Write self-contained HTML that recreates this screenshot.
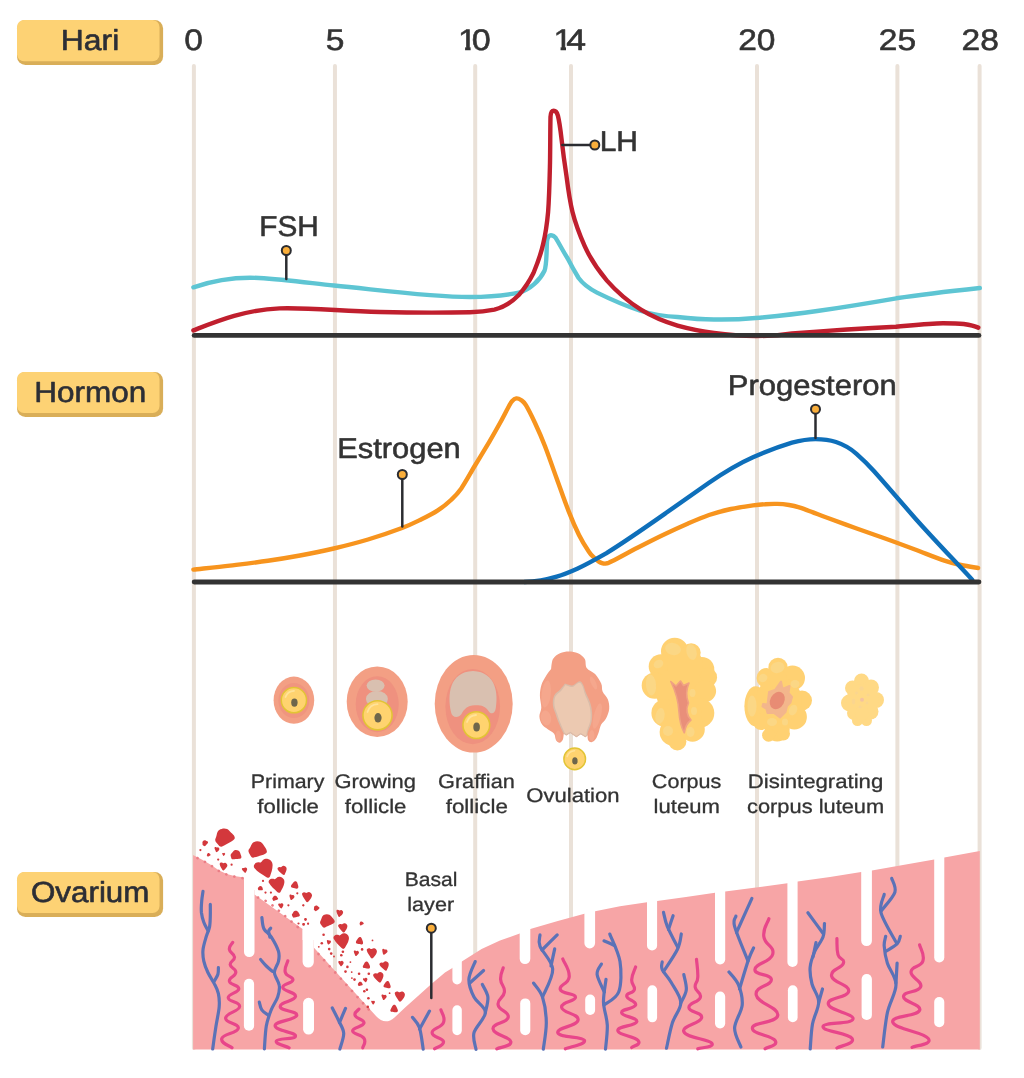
<!DOCTYPE html>
<html lang="id">
<head>
<meta charset="utf-8">
<title>Siklus Menstruasi</title>
<style>
html,body{margin:0;padding:0;background:#fff;}
body{width:1024px;height:1078px;overflow:hidden;font-family:"Liberation Sans",sans-serif;}
svg{display:block;}
text{font-family:"Liberation Sans",sans-serif;text-rendering:geometricPrecision;fill:#333;stroke:#333;stroke-width:0.55px;stroke-linejoin:round;}
.lb text{fill:#2c2e35;stroke:#2c2e35;stroke-width:0.6px;}
.sm text{stroke-width:0.3px;}
.gl{stroke:#eae1d8;stroke-width:4;stroke-linecap:round;fill:none;}
.bl{stroke:#333;stroke-width:4.9;stroke-linecap:round;fill:none;}
.cv{fill:none;stroke-width:4.4;stroke-linecap:round;stroke-linejoin:round;}
.ld{stroke:#2b2c31;stroke-width:2.5;fill:none;stroke-linecap:round;}
.dot{fill:#f9ae3b;stroke:#2b2c31;stroke-width:2;}
.bv{fill:none;stroke:#5b72b7;stroke-width:3.2;stroke-linecap:round;stroke-linejoin:round;}
.mv{fill:none;stroke:#e8468a;stroke-width:3.2;stroke-linecap:round;stroke-linejoin:round;}
</style>
</head>
<body>
<svg width="1024" height="1078" viewBox="0 0 1024 1078">
<rect width="1024" height="1078" fill="#fff"/>

<!-- GRIDLINES -->
<g class="gl">
<line x1="193.9" y1="66" x2="193.9" y2="1048"/>
<line x1="334.95" y1="66" x2="334.95" y2="1000"/>
<line x1="475.2" y1="66" x2="475.2" y2="1000"/>
<line x1="571" y1="66" x2="571" y2="1000"/>
<line x1="757" y1="66" x2="757" y2="1000"/>
<line x1="897.4" y1="66" x2="897.4" y2="1000"/>
<line x1="979.6" y1="66" x2="979.6" y2="1048"/>
</g>

<!-- LABEL BOXES -->
<g id="labels" class="lb">
<rect x="17" y="20" width="146.1" height="45.1" rx="8.5" fill="#d9ae58"/>
<rect x="17" y="20" width="142.5" height="41.2" rx="7" fill="#fdd274"/>
<text x="90" y="50" font-size="29" text-anchor="middle" textLength="58.5" lengthAdjust="spacingAndGlyphs">Hari</text>
<rect x="17" y="372" width="146.1" height="44.9" rx="8.5" fill="#d9ae58"/>
<rect x="17" y="372" width="142.5" height="41" rx="7" fill="#fdd274"/>
<text x="90.2" y="402" font-size="29" text-anchor="middle" textLength="112" lengthAdjust="spacingAndGlyphs">Hormon</text>
<rect x="17" y="872" width="146.1" height="44.9" rx="8.5" fill="#d9ae58"/>
<rect x="17" y="872" width="142.5" height="41" rx="7" fill="#fdd274"/>
<text x="90.2" y="902" font-size="29" text-anchor="middle" textLength="118.5" lengthAdjust="spacingAndGlyphs">Ovarium</text>
</g>

<!-- DAY NUMBERS -->
<g id="days" font-size="29.7">
<text transform="translate(184.2 50) scale(1.13 1)">0</text>
<text transform="translate(325.8 50) scale(1.13 1)">5</text>
<clipPath id="c1"><path d="M455,25 H470.6 V52 H465.1 V46 H455 Z"/></clipPath><g clip-path="url(#c1)"><text transform="translate(458 50) scale(1.13 1)">1</text></g><text transform="translate(471.7 50) scale(1.15 1)">0</text>
<clipPath id="c2"><path d="M550,25 H566 V52 H560.6 V46 H550 Z"/></clipPath><g clip-path="url(#c2)"><text transform="translate(553.5 50) scale(1.13 1)">1</text></g><text transform="translate(566.3 50) scale(1.2 1)">4</text>
<text transform="translate(738.2 50) scale(1.13 1)">20</text>
<text transform="translate(878.8 50) scale(1.13 1)">25</text>
<text transform="translate(961.6 50) scale(1.13 1)">28</text>
</g>

<!-- CHART 1 -->
<g id="chart1">
<path class="cv" stroke="#5ec5d3" d="M193.4,287.3 C215,280 240,277 259,278 C285,279.5 310,283 334,285.5 C380,290 430,297 470,297 C490,297 505,295.5 518.8,292.6 C530,290 540,280 544.5,270.7 C547,264 546.4,250 547,241.4 C547.5,236 550,235 551.3,235.3 C553,235.5 554.5,236.5 555.5,237.7 C560,245 563,251 567.7,258.5 C571,265 575,272 578.6,278 C583,284 589,288.5 597,292.6 C612,300 626,306 640.9,311 C655,315 668,316.5 677.5,317 C690,318.5 702,319.5 714,319.5 C730,319.8 745,319 755.7,318 C778,316 800,313.5 817.2,311 C845,307 872,302.5 896.3,298.3 C925,294 952,291 979.8,288"/>
<path class="cv" stroke="#c01f2e" d="M193.4,330.4 C215,322 245,309.5 279.6,308.4 C310,307.5 340,311 380,312 C415,312.8 445,312.8 470,312.2 C480,312 488,311 494.4,309.7 C503,307.5 511,303 518.8,295 C525,288 529,282 533.5,273 C538,262 541,254 543.2,243.8 C546,232 547.2,222 548.1,212 C549.3,196 549.6,180 550,163 C550.3,148 550.2,130 550.5,116.9 C550.8,112 552,110.8 553.7,110.8 C555.5,110.8 557,112.5 557.9,115.6 C559.5,122 560.5,130 561.5,138.8 C563,152 564.5,163 566.4,175.4 C568,188 569.5,200 572.5,212 C575.5,224 580,235.5 584.7,246.2 C590,258 598,270 606.7,280.4 C616,291 628,301.5 640.9,309.7 C652,316.5 665,322 677.5,325.6 C690,329 702,331.5 714,333 C725,334.5 740,336 756,336 C772,336 782,335 792,333.5 C825,331 862,328.5 896,326.8 C915,325 930,323.2 943,323.2 C952,323.2 958,323.3 963.7,324 C970,325 975,326.2 978.3,327.6"/>
<line class="bl" x1="194.2" y1="335.4" x2="978.9" y2="335.4"/>
<line class="ld" x1="286.3" y1="255" x2="286.3" y2="279"/>
<circle class="dot" cx="286.3" cy="250.5" r="4.5"/>
<text x="289" y="236.4" font-size="28.6" text-anchor="middle" textLength="59.5" lengthAdjust="spacingAndGlyphs">FSH</text>
<line class="ld" x1="562.3" y1="145" x2="590" y2="145" stroke-linecap="round"/>
<circle class="dot" cx="594.8" cy="145" r="4.5"/>
<text x="599.7" y="151.4" font-size="28.6" textLength="38.3" lengthAdjust="spacingAndGlyphs">LH</text>
</g>

<!-- CHART 2 -->
<g id="chart2">
<path class="cv" stroke="#f7941e" d="M193.4,569.6 C199.5,568.9 217.6,567.1 230.0,565.6 C242.4,564.1 256.2,562.5 267.9,560.8 C279.6,559.1 289.0,557.5 300.0,555.5 C311.0,553.5 322.5,551.2 333.8,548.5 C345.1,545.8 356.6,542.9 368.0,539.5 C379.4,536.1 393.0,531.4 402.0,528.0 C411.0,524.6 416.0,521.9 422.0,519.0 C428.0,516.1 433.0,513.6 437.8,510.4 C442.6,507.2 447.1,503.7 451.0,500.0 C454.9,496.3 457.3,494.1 461.3,488.4 C465.3,482.6 470.3,473.3 475.0,465.5 C479.7,457.7 485.1,448.9 489.3,441.8 C493.5,434.7 496.8,428.8 500.0,423.0 C503.2,417.2 506.5,410.6 508.5,407.0 C510.5,403.4 510.7,402.6 512.0,401.2 C513.3,399.8 514.8,398.6 516.3,398.4 C517.8,398.2 519.4,398.9 521.0,400.0 C522.6,401.1 523.6,401.4 525.9,405.2 C528.2,409.0 531.8,416.2 535.0,423.0 C538.2,429.8 541.4,437.0 545.0,446.2 C548.6,455.4 552.6,467.3 556.5,478.0 C560.4,488.7 564.6,501.1 568.4,510.6 C572.1,520.1 575.6,528.1 579.0,535.0 C582.4,541.9 586.4,548.0 588.9,551.7 C591.4,555.5 592.3,555.8 594.0,557.5 C595.7,559.2 597.7,560.9 599.2,561.9 C600.7,562.9 601.8,563.1 603.0,563.4 C604.2,563.6 604.9,563.8 606.5,563.4 C608.1,563.0 607.1,563.6 612.4,561.0 C617.6,558.4 629.2,552.0 638.0,547.5 C646.8,543.0 656.9,537.9 665.1,534.0 C673.3,530.1 679.7,527.2 687.0,524.0 C694.3,520.8 701.7,517.5 709.0,515.0 C716.3,512.5 723.7,510.6 731.0,509.0 C738.3,507.4 747.3,506.2 753.0,505.4 C758.7,504.6 760.9,504.4 765.0,504.2 C769.1,503.9 773.4,503.8 777.4,503.9 C781.4,504.0 785.2,504.4 789.0,505.0 C792.8,505.6 796.0,506.4 800.0,507.6 C804.0,508.8 808.5,510.7 813.0,512.4 C817.5,514.1 820.0,515.2 827.2,517.8 C834.4,520.4 846.2,524.7 856.0,528.2 C865.8,531.7 876.0,535.2 885.8,538.7 C895.6,542.2 905.2,545.8 915.0,549.5 C924.8,553.2 936.7,558.1 944.4,560.7 C952.1,563.3 955.4,563.8 961.0,565.0 C966.6,566.2 975.2,567.5 978.1,568.0"/>
<path class="cv" stroke="#0e6fba" d="M524.5,582 C536,581.5 547,579.5 556.7,576.6 C564,574.5 571,571.5 577.2,568.7 C587,564.2 597,558.5 606.5,553.1 C626,541 646,527 665.1,513.6 C680,503 695,492.5 709,482.8 C724,472.5 739,463.5 753,457.3 C766,451.5 779,446.5 792,442.6 C800,440.5 808,439.1 815.5,439.1 C823,439.1 830,440 836,442 C843.5,444.5 850.5,448.5 856.5,453.8 C863,459.5 869,465.5 874.1,471.3 C888,487 902,503 915.1,518.2 C934,539.5 953,559 972.2,579.7"/>
<line class="bl" x1="194.2" y1="582" x2="978.9" y2="582"/>
<line class="ld" x1="402.3" y1="479" x2="402.3" y2="526.5"/>
<circle class="dot" cx="402.3" cy="474.5" r="4.5"/>
<text x="399" y="457.6" font-size="28.6" text-anchor="middle" textLength="123.5" lengthAdjust="spacingAndGlyphs">Estrogen</text>
<line class="ld" x1="815.5" y1="413.5" x2="815.5" y2="438"/>
<circle class="dot" cx="815.5" cy="409.2" r="4.5"/>
<text x="812.3" y="394.6" font-size="28.6" text-anchor="middle" textLength="169" lengthAdjust="spacingAndGlyphs">Progesteron</text>
</g>

<!-- FOLLICLES -->
<g id="follicles">
<!-- primary -->
<ellipse cx="293.9" cy="700.2" rx="20.3" ry="23.6" fill="#f39f84"/>
<ellipse cx="293.9" cy="700.6" rx="15.5" ry="17.5" fill="#f0957f"/>
<circle cx="293.9" cy="700.2" r="12.6" fill="#ffd36f" stroke="#e2c435" stroke-width="1.5"/>
<path d="M285.5,697 A9.5,9.5 0 0 1 294,690.8" fill="none" stroke="#ffe39a" stroke-width="1.8" stroke-linecap="round"/>
<ellipse cx="294.4" cy="702.6" rx="3.2" ry="4.2" fill="#6e664b"/>
<!-- growing -->
<ellipse cx="377.2" cy="701.7" rx="30.5" ry="35.3" fill="#f39f84"/>
<ellipse cx="377.2" cy="704.2" rx="21.5" ry="28" fill="#ef917f"/>
<ellipse cx="375.6" cy="685.6" rx="9" ry="6.2" fill="#d9c0b0"/>
<ellipse cx="376.9" cy="699" rx="11" ry="8" fill="#d9c0b0"/>
<circle cx="377.5" cy="715.3" r="14.6" fill="#ffd36f" stroke="#e2c435" stroke-width="1.6"/>
<path d="M367.5,712 A11,11 0 0 1 377.5,704.2" fill="none" stroke="#ffe39a" stroke-width="1.8" stroke-linecap="round"/>
<ellipse cx="378" cy="717.8" rx="3.6" ry="4.8" fill="#6e664b"/>
<!-- graafian -->
<ellipse cx="473.7" cy="703.8" rx="39" ry="48.8" fill="#f39f84"/>
<ellipse cx="472.7" cy="706.6" rx="27.3" ry="37.6" fill="#ef917f"/>
<path d="M451,712 C447.5,695 449,672 473,671 C497,672 498,695 495.8,708 C495,714.5 490.5,714.5 488.5,711 C485.5,706 481,705 475,705.2 C468,705 464,709 461.5,714 C458.5,718.5 452,718 451,712 Z" fill="#d9c0b0"/>
<circle cx="476.3" cy="725.1" r="13.4" fill="#ffd36f" stroke="#e2c435" stroke-width="1.6"/>
<path d="M467,722 A10,10 0 0 1 476,715" fill="none" stroke="#ffe39a" stroke-width="1.8" stroke-linecap="round"/>
<ellipse cx="476.6" cy="727.1" rx="3.3" ry="4.5" fill="#6e664b"/>
<!-- ovulation -->
<path d="M551.1,669.1 C551.4,667.4 551.5,661.6 553.0,659.0 C554.5,656.4 557.4,654.5 560.0,653.3 C562.6,652.1 565.8,651.6 568.8,651.6 C571.8,651.6 575.3,652.1 578.0,653.3 C580.7,654.5 583.3,656.6 584.8,659.0 C586.2,661.4 585.0,665.4 586.7,667.9 C588.4,670.4 592.7,671.4 595.1,674.0 C597.5,676.6 600.0,680.7 601.2,683.6 C602.5,686.5 601.5,688.9 602.6,691.5 C603.7,694.1 606.7,696.4 607.8,699.3 C608.9,702.2 609.5,705.7 609.2,708.9 C608.9,712.1 607.3,716.0 606.0,718.6 C604.7,721.2 602.4,722.4 601.2,724.6 C600.0,726.8 599.7,729.5 598.8,731.9 C597.9,734.3 596.9,737.4 595.7,739.1 C594.5,740.8 592.8,742.1 591.5,742.3 C590.2,742.5 588.9,741.5 588.2,740.3 C587.5,739.1 587.6,736.1 587.5,735.2 L585.5,737.3 L580.7,734.3 L576.4,737.3 L570.4,733.1 L566.2,735.5 L563.8,733.7 C563.6,734.7 563.5,738.2 562.8,739.7 C562.1,741.2 560.7,742.6 559.6,742.7 C558.5,742.8 557.0,741.8 556.1,740.3 C555.2,738.8 555.4,735.5 554.1,733.7 C552.8,731.9 550.1,730.9 548.1,729.4 C546.1,727.9 543.6,726.8 542.1,724.6 C540.6,722.4 539.5,719.0 539.4,716.2 C539.3,713.4 541.2,711.1 541.3,707.7 C541.4,704.3 539.9,699.5 539.9,695.7 C539.9,691.9 540.5,688.0 541.5,684.8 C542.5,681.6 544.1,679.0 545.7,676.4 C547.3,673.8 550.2,670.3 551.1,669.1 Z" fill="#f39f84"/>
<g fill="#f5a78d"><ellipse cx="546.2" cy="694" rx="4.6" ry="13.5" transform="rotate(6 546.2 694)"/><ellipse cx="546" cy="718" rx="5.2" ry="7.5" transform="rotate(-10 546 718)"/><ellipse cx="597.3" cy="716" rx="3.6" ry="13" transform="rotate(14 597.3 716)"/><ellipse cx="593.5" cy="683" rx="2.4" ry="7" transform="rotate(-25 593.5 683)"/><ellipse cx="558.3" cy="736" rx="2.6" ry="5.5"/><ellipse cx="591.8" cy="735.5" rx="2.6" ry="5.5"/></g>
<path d="M565.0,683.6 C566.2,683.9 569.8,685.8 572.2,685.4 C574.6,685.0 577.7,681.3 579.5,681.2 C581.3,681.1 582.0,682.8 583.1,684.8 C584.2,686.8 584.9,690.3 586.1,693.3 C587.3,696.3 589.3,699.7 590.3,702.9 C591.3,706.1 591.9,709.4 592.1,712.6 C592.3,715.8 592.2,719.0 591.5,722.2 C590.8,725.4 588.6,729.7 587.9,731.9 C587.2,734.1 587.6,734.7 587.5,735.2 L585.5,737.3 L580.7,734.3 L576.4,737.3 L570.4,733.1 L566.2,735.5 L563.8,733.7 C563.0,732.0 560.3,726.5 559.0,723.4 C557.7,720.3 556.9,718.0 555.9,715.0 C554.9,712.0 553.2,708.5 552.9,705.3 C552.6,702.1 552.9,698.3 554.1,695.7 C555.3,693.1 558.4,691.6 560.2,689.6 C562.0,687.6 564.2,684.6 565.0,683.6 Z" fill="#d9bca9"/>
<path d="M565.5,685.1 C566.6,685.4 570.0,687.4 572.3,687.0 C574.5,686.6 577.4,682.9 579.1,682.8 C580.8,682.6 581.5,684.3 582.5,686.3 C583.4,688.2 584.0,691.6 585.0,694.5 C586.1,697.3 587.8,700.4 588.8,703.4 C589.7,706.3 590.3,709.2 590.5,712.2 C590.8,715.2 590.8,718.2 590.2,721.2 C589.6,724.3 587.7,728.3 587.1,730.5 C586.4,732.8 586.7,733.9 586.6,734.6 L585.5,735.9 L580.7,732.9 L576.4,735.9 L570.4,731.7 L566.2,734.1 L564.6,732.8 C563.8,731.0 561.3,725.3 560.1,722.2 C558.9,719.1 558.3,717.2 557.4,714.4 C556.4,711.6 554.8,708.5 554.5,705.5 C554.2,702.5 554.3,699.0 555.4,696.6 C556.5,694.1 559.4,692.8 561.1,690.9 C562.8,689.0 564.8,686.1 565.5,685.1 Z" fill="#ecc9b1"/>
<circle cx="574.7" cy="758.9" r="10.8" fill="#ffd36f" stroke="#e2c435" stroke-width="1.5"/>
<path d="M567.2,756.5 A8,8 0 0 1 574.5,750.8" fill="none" stroke="#ffe39a" stroke-width="1.6" stroke-linecap="round"/>
<ellipse cx="574.9" cy="760.9" rx="2.7" ry="3.7" fill="#6e664b"/>
<!-- corpus luteum -->
<g fill="#ffd172">
<circle cx="674.7" cy="651.4" r="13.7"/><circle cx="691.1" cy="652.8" r="9.6"/><circle cx="702" cy="669.2" r="12.3"/>
<circle cx="707.5" cy="677.4" r="9.6"/><circle cx="661" cy="666.5" r="12.3"/><circle cx="654.9" cy="685.6" r="13.2"/>
<circle cx="680.2" cy="691.1" r="24.6"/><circle cx="705.2" cy="691.1" r="10.9"/><circle cx="665.1" cy="713" r="13.7"/>
<circle cx="699.3" cy="713" r="15"/><circle cx="673.3" cy="732.1" r="13.7"/><circle cx="677.4" cy="741.5" r="9"/>
<circle cx="692.5" cy="729.4" r="12.3"/><circle cx="685" cy="665" r="18"/><circle cx="684" cy="715" r="18"/>
</g>
<g fill="#fbd888" opacity="0.9">
<ellipse cx="673" cy="649" rx="8" ry="6" transform="rotate(15 673 649)"/>
<ellipse cx="691.5" cy="652" rx="5" ry="8" transform="rotate(-15 691.5 652)"/>
<ellipse cx="651" cy="685" rx="5" ry="10.5" transform="rotate(-5 651 685)"/>
<ellipse cx="658.5" cy="664" rx="5" ry="4" transform="rotate(-30 658.5 664)"/>
<ellipse cx="660" cy="716" rx="4.5" ry="8" transform="rotate(10 660 716)"/>
<ellipse cx="668" cy="731" rx="5" ry="5"/>
<ellipse cx="690.5" cy="732" rx="4" ry="5"/>
<ellipse cx="692.5" cy="693" rx="3" ry="4"/>
<ellipse cx="694" cy="711" rx="3" ry="4"/>
</g>
<path d="M670.8,681.5 L676,686 L680.5,681 L683.5,685.5 L689,683 C686,690 686,697 688.5,703 C685.5,709 687,716 691,720 C687,723 685,728 684.3,732.8 C681,727 679.5,720 679,712 C678.5,703 676,692 670.8,681.5 Z" fill="#e98f7a" stroke="#f0a283" stroke-width="1.6" stroke-linejoin="round"/>
<!-- disintegrating -->
<g fill="#ffd172">
<circle cx="778" cy="667.3" r="9.6"/><circle cx="766.5" cy="678" r="10"/><circle cx="792.5" cy="678" r="12.5"/>
<ellipse cx="755.6" cy="706.3" rx="11.2" ry="20"/><circle cx="802" cy="700.5" r="10"/><circle cx="794.4" cy="716.9" r="12.5"/>
<circle cx="777.2" cy="729" r="12.5"/><circle cx="768.6" cy="735.2" r="6.5"/><circle cx="783.4" cy="733.8" r="6.6"/>
<circle cx="778.8" cy="700" r="23"/><circle cx="778" cy="679" r="9"/><circle cx="761" cy="722" r="8"/>
</g>
<g fill="#fbd888" opacity="0.9">
<ellipse cx="777.5" cy="667.5" rx="7" ry="5.5" transform="rotate(-15 777.5 667.5)"/>
<ellipse cx="763" cy="678" rx="4.5" ry="4" transform="rotate(-30 763 678)"/>
<ellipse cx="795" cy="684" rx="4.5" ry="4"/>
<ellipse cx="752" cy="706" rx="4.5" ry="10.5"/>
<ellipse cx="793" cy="710" rx="4" ry="5.5" transform="rotate(25 793 710)"/>
<ellipse cx="772" cy="722" rx="5" ry="4"/>
<ellipse cx="785" cy="722" rx="3" ry="3.5"/>
</g>
<path d="M781,681.5 L782.5,689 L789.5,686 L788.5,693 L792,697 L790.5,702.5 L787,706 L785.5,712 L780,717.5 L774,713 L767.5,713 L766.5,709 L762.5,706.5 L763,704 L767.5,704.5 L769,692 L775,690 Z" fill="#f3b68c" stroke="#f3b68c" stroke-width="2" stroke-linejoin="round"/>
<ellipse cx="777.3" cy="700.5" rx="7" ry="9.2" transform="rotate(28 777.3 700.5)" fill="#e88c74"/>
<!-- small -->
<g fill="#ffd985">
<circle cx="861.5" cy="681" r="7.5"/><circle cx="852.5" cy="688" r="7.5"/><circle cx="871" cy="687.5" r="8"/>
<circle cx="849.5" cy="703" r="8.5"/><circle cx="876" cy="700" r="8"/><circle cx="854" cy="713" r="7"/>
<circle cx="870.5" cy="711.5" r="8"/><circle cx="857.5" cy="720.5" r="5.5"/><circle cx="866.5" cy="720.5" r="5.5"/>
<circle cx="862.5" cy="700" r="16"/><circle cx="862" cy="713.5" r="7"/>
</g>
<g fill="#f9d592" opacity="0.8">
<circle cx="861.5" cy="688.5" r="2.2"/><circle cx="856.5" cy="693" r="1.6"/><circle cx="868" cy="695" r="1.6"/>
<ellipse cx="853.5" cy="701.5" rx="1.6" ry="3"/><circle cx="860" cy="707" r="1.6"/><circle cx="867" cy="703" r="1.4"/>
</g>
<circle cx="862" cy="699.8" r="2" fill="#f3c2a0"/>
<!-- labels -->
<g class="sm" font-size="19.6" text-anchor="middle">
<text x="287.6" y="787.7" textLength="73.6" lengthAdjust="spacingAndGlyphs">Primary</text>
<text x="288.1" y="813.4" textLength="61.6" lengthAdjust="spacingAndGlyphs">follicle</text>
<text x="375.2" y="787.7" textLength="81.6" lengthAdjust="spacingAndGlyphs">Growing</text>
<text x="375.6" y="813.4" textLength="61.6" lengthAdjust="spacingAndGlyphs">follicle</text>
<text x="476.4" y="787.7" textLength="76.8" lengthAdjust="spacingAndGlyphs">Graffian</text>
<text x="476.8" y="813.4" textLength="62.2" lengthAdjust="spacingAndGlyphs">follicle</text>
<text x="572.9" y="802.1" textLength="93.3" lengthAdjust="spacingAndGlyphs">Ovulation</text>
<text x="686.6" y="787.7" textLength="69.5" lengthAdjust="spacingAndGlyphs">Corpus</text>
<text x="686.7" y="813.4" textLength="66.3" lengthAdjust="spacingAndGlyphs">luteum</text>
<text x="815.5" y="787.7" textLength="135.6" lengthAdjust="spacingAndGlyphs">Disintegrating</text>
<text x="815.6" y="813.4" textLength="137.2" lengthAdjust="spacingAndGlyphs">corpus luteum</text>
</g>
</g>

<!-- ENDOMETRIUM -->
<g id="endo">
<path d="M193.1,1049.5 L193.1,855 L202.7,860 L210.3,864.4 L219.2,870.6 L226.8,874 L234.4,876 L244,877.6 L244,890 L254.5,890 L254.5,894.5 L302.6,929 L302.6,940 L313.8,940 L314,947.8 L376,1016 Q385,1025.9 394.5,1017.4 L400.9,1011.6 L405.4,1007.3 L418.0,996.0 L430.8,984.4 L445.0,972.4 L452.4,967.9 L461.8,961.6 L481.6,948.9 L500.0,940.5 L519.7,933.6 L530.3,929.0 L557.8,920.9 L584.4,913.8 L595.1,911.3 L620.0,906.3 L647.0,902.2 L657.1,900.9 L686.0,897.0 L715.0,892.8 L725.2,891.5 L756.0,887.5 L787.4,883.2 L797.6,881.6 L830.0,876.9 L861.2,872.1 L871.9,870.4 L903.0,865.0 L934.2,859.6 L944.3,857.5 L979.8,851.1 L979.8,1049.5 Z" fill="#f7a5a6"/>
<path d="M197.5,858 L202.7,860.6 L210.3,865 L219.2,871.2 L226.8,874.6 L234.4,876.6 L242.5,878.2 M258,897.5 L268.7,902.2 L283.9,915 L300,929 M318.5,954 L371,1012" fill="none" stroke="#eb7d85" stroke-width="2.6" stroke-dasharray="0.1 8.2" stroke-linecap="round"/>
<rect x="244.0" y="870.0" width="10.5" height="87.1" rx="5.2" fill="#fff"/>
<rect x="302.6" y="925.0" width="11.2" height="42.6" rx="5.6" fill="#fff"/>
<rect x="452.4" y="955.0" width="9.4" height="29.4" rx="4.7" fill="#fff"/>
<rect x="519.7" y="922.0" width="10.6" height="42.1" rx="5.3" fill="#fff"/>
<rect x="584.4" y="902.0" width="10.7" height="46.4" rx="5.4" fill="#fff"/>
<rect x="647.0" y="892.0" width="10.1" height="58.5" rx="5.1" fill="#fff"/>
<rect x="715.0" y="882.0" width="10.2" height="82.4" rx="5.1" fill="#fff"/>
<rect x="787.4" y="872.0" width="10.2" height="95.0" rx="5.1" fill="#fff"/>
<rect x="861.2" y="861.0" width="10.7" height="85.0" rx="5.3" fill="#fff"/>
<rect x="934.2" y="848.0" width="10.1" height="114.5" rx="5.0" fill="#fff"/>
<rect x="243.9" y="978.7" width="10.2" height="52.1" rx="5.1" fill="#fff"/>
<rect x="303.1" y="997.8" width="10.9" height="36.8" rx="5.4" fill="#fff"/>
<rect x="452.4" y="1005.3" width="9.4" height="29.9" rx="4.7" fill="#fff"/>
<rect x="520.2" y="998.4" width="10.1" height="36.8" rx="5.0" fill="#fff"/>
<rect x="585.2" y="994.6" width="9.9" height="20.3" rx="4.9" fill="#fff"/>
<rect x="647.5" y="985.3" width="9.6" height="37.0" rx="4.8" fill="#fff"/>
<rect x="715.0" y="991.6" width="10.2" height="36.8" rx="5.1" fill="#fff"/>
<rect x="787.9" y="985.3" width="9.7" height="37.0" rx="4.9" fill="#fff"/>
<rect x="861.6" y="973.9" width="10.3" height="46.2" rx="5.1" fill="#fff"/>
<rect x="934.2" y="997.1" width="10.1" height="30.1" rx="5.0" fill="#fff"/>
<g class="bv">
<path d="M212.7,1049.0 C213.2,1045.2 214.9,1033.2 216.0,1026.1 C217.1,1019.0 218.8,1012.0 219.2,1006.6 C219.6,1001.2 219.2,997.4 218.4,993.6 C217.6,989.8 216.2,987.4 214.4,983.9 C212.7,980.4 209.7,976.3 207.9,972.5 C206.1,968.7 204.6,965.0 203.8,961.2 C203.0,957.4 202.6,953.9 203.0,949.8 C203.4,945.7 205.1,940.6 206.2,936.8 C207.3,933.0 208.8,930.6 209.5,927.1 C210.2,923.6 210.2,919.5 210.3,915.7 C210.4,911.9 210.3,906.3 210.3,904.4"/>
<path d="M208.2,931.1 C207.5,929.6 204.9,925.3 203.8,922.2 C202.7,919.1 201.8,916.0 201.4,912.5 C201.1,909.0 201.4,904.6 201.7,901.1 C202.0,897.6 202.8,893.0 203.0,891.4"/>
<path d="M214.0,981.5 C214.7,980.3 217.2,976.5 217.9,974.2 C218.6,971.9 218.3,968.8 218.4,967.7"/>
<path d="M264.4,1048.8 C264.7,1045.0 265.2,1032.6 266.3,1026.1 C267.4,1019.6 269.3,1014.8 271.2,1009.9 C273.1,1005.0 276.3,1001.0 277.7,996.9 C279.1,992.8 279.9,989.6 279.3,985.5 C278.8,981.4 274.5,976.5 274.4,972.5 C274.3,968.5 277.8,964.7 278.5,961.2 C279.2,957.7 279.7,955.5 278.5,951.4 C277.3,947.3 273.6,940.6 271.2,936.8 C268.8,933.0 265.4,931.9 263.9,928.7 C262.3,925.5 262.2,919.5 261.9,917.7"/>
<path d="M269.9,937.1 C269.7,936.1 268.6,932.6 268.7,931.1 C268.8,929.6 270.4,928.7 270.7,928.2"/>
<path d="M268.2,1015.1 C267.1,1014.2 263.3,1012.1 261.8,1009.9 C260.3,1007.7 259.7,1003.4 259.3,1002.1"/>
<path d="M272.5,971.4 C271.5,970.5 268.3,968.0 266.3,966.0 C264.3,964.0 261.6,960.6 260.6,959.5"/>
<path d="M339.9,1049.0 C340.5,1046.4 343.9,1038.0 343.7,1033.3 C343.5,1028.6 340.5,1024.8 338.6,1020.6 C336.7,1016.4 333.4,1010.0 332.3,1007.9"/>
<path d="M339.5,1022.5 C340.5,1020.1 344.5,1010.8 345.5,1008.4"/>
<path d="M423.2,1049.2 C422.6,1045.6 421.2,1032.9 419.4,1027.6 C417.6,1022.3 413.6,1019.1 412.5,1017.4"/>
<path d="M419.6,1029.0 C421.2,1026.0 427.9,1014.1 429.5,1011.1"/>
<path d="M476.0,1049.3 C475.7,1046.5 472.4,1038.9 474.0,1032.7 C475.6,1026.5 485.4,1018.3 485.4,1012.4 C485.4,1006.5 476.8,1002.6 474.0,997.1 C471.2,991.6 468.7,985.3 468.9,979.4 C469.1,973.5 474.1,964.6 475.2,961.6"/>
<path d="M469.8,983.0 C472.1,980.9 481.3,972.6 483.6,970.5"/>
<path d="M485.4,1012.4 C485.8,1009.9 488.4,1001.8 487.9,997.1 C487.4,992.4 483.2,986.5 482.3,984.4"/>
<path d="M543.3,1049.2 C543.8,1044.8 546.4,1031.2 546.3,1022.5 C546.2,1013.8 544.6,1003.6 542.5,997.1 C540.4,990.6 535.1,985.5 533.6,983.2"/>
<path d="M542.5,997.1 C544.2,992.5 553.1,977.7 552.7,969.2 C552.3,960.7 542.1,952.0 540.0,946.3 C537.9,940.6 540.0,936.8 540.0,934.9"/>
<path d="M542.0,950.0 C544.5,947.5 554.7,937.4 557.2,934.9"/>
<path d="M551.0,966.0 C551.6,963.1 554.1,951.8 554.7,948.9"/>
<path d="M605.5,1049.2 C605.8,1045.2 607.6,1032.9 607.3,1025.1 C607.0,1017.3 603.7,1009.8 603.5,1002.2 C603.3,994.6 605.6,983.2 606.0,979.4"/>
<path d="M604.3,992.0 C603.1,989.0 597.6,978.9 597.1,974.3 C596.6,969.6 600.7,965.8 601.4,964.1"/>
<path d="M604.0,1005.0 C606.5,1002.8 616.0,999.2 618.7,992.0 C621.4,984.8 621.5,971.2 620.0,961.6 C618.5,952.0 611.5,938.7 609.8,934.1"/>
<path d="M614.5,945.5 C612.8,944.7 605.8,941.6 604.0,940.8"/>
<path d="M666.5,1048.2 C667.5,1044.0 670.0,1030.4 672.4,1022.8 C674.8,1015.2 681.0,1009.3 680.8,1002.5 C680.6,995.7 674.2,987.7 671.1,982.2 C668.0,976.7 663.7,972.9 662.2,969.5 C660.7,966.1 662.2,963.2 662.2,961.9"/>
<path d="M663.5,971.5 C665.8,967.8 674.5,955.5 677.5,949.2 C680.5,943.0 680.7,936.5 681.3,934.0"/>
<path d="M677.8,947.5 C676.0,944.0 669.7,932.1 667.3,926.3 C664.9,920.4 664.1,914.7 663.5,912.4"/>
<path d="M668.5,929.5 C669.3,927.2 672.3,918.0 673.1,915.7"/>
<path d="M680.5,1003.5 C681.5,1001.2 685.8,994.6 686.3,989.8 C686.8,985.0 684.2,977.1 683.8,974.6"/>
<path d="M740.9,1047.0 C739.9,1043.8 734.4,1034.9 734.6,1027.9 C734.8,1020.9 741.6,1012.3 742.2,1005.1 C742.8,997.9 740.6,990.2 738.4,984.7 C736.2,979.2 730.6,974.1 729.0,972.0"/>
<path d="M739.5,989.0 C741.0,984.1 746.2,966.2 748.6,959.4 C751.0,952.5 752.8,949.8 753.6,947.9"/>
<path d="M748.0,961.0 C745.8,955.2 736.6,933.8 734.6,926.3 C732.6,918.8 735.7,917.9 735.9,916.2"/>
<path d="M736.5,932.5 C739.1,926.8 749.3,904.1 751.9,898.4"/>
<path d="M810.2,1049.0 C810.6,1044.8 811.1,1031.8 812.5,1024.0 C813.9,1016.1 818.8,1008.6 818.7,1001.9 C818.6,995.2 813.4,989.7 812.0,984.0 C810.6,978.3 809.7,972.8 810.1,967.5 C810.5,962.2 812.4,957.1 814.5,952.0 C816.6,946.9 821.3,941.8 823.0,937.0 C824.7,932.2 824.2,925.8 824.5,923.5"/>
<path d="M823.5,934.0 C820.9,930.5 810.5,916.2 807.9,912.7"/>
<path d="M813.0,957.0 C813.5,954.6 815.5,944.9 816.0,942.5"/>
<path d="M818.5,1003.0 C819.2,1000.7 821.8,991.3 822.5,989.0"/>
<path d="M882.7,1047.0 C883.5,1041.3 885.2,1023.0 887.4,1012.6 C889.6,1002.2 896.0,992.9 896.0,984.7 C896.0,976.5 889.4,969.7 887.4,963.2 C885.4,956.8 884.5,950.5 884.2,946.0 C883.9,941.5 885.5,937.9 885.7,936.3"/>
<path d="M885.5,951.5 C887.4,950.2 894.6,946.4 897.1,943.9 C899.6,941.4 899.8,937.6 900.3,936.3"/>
<path d="M896.5,943.0 C893.9,938.0 883.0,920.8 881.0,912.7 C879.0,904.6 883.7,897.5 884.2,894.4"/>
<path d="M881.5,910.5 C883.7,907.5 893.2,897.7 894.9,892.3 C896.6,886.9 892.2,880.6 891.7,878.3"/>
<path d="M896.0,983.0 C896.2,979.7 896.9,966.5 897.1,963.2"/>
</g>
<g class="mv">
<path d="M232.0,1047.8 C229.4,1045.5 220.2,1043.3 221.8,1038.4 C223.4,1033.5 237.4,1033.3 238.3,1028.2 C239.2,1023.1 225.3,1023.5 225.6,1018.1 C225.9,1012.7 238.9,1011.7 239.6,1006.6 C240.2,1001.5 228.4,1002.2 228.2,997.8 C228.0,993.4 238.5,993.0 238.8,988.9 C239.1,984.8 230.2,985.4 229.4,981.3 C228.7,977.2 235.6,976.5 235.8,972.4 C236.0,968.2 230.5,968.5 230.2,964.7 C229.9,960.9 234.7,960.9 234.5,957.1 C234.3,953.3 229.9,953.2 229.4,949.5 C228.9,945.8 231.9,944.2 232.7,942.4"/>
<path d="M289.1,1047.8 C285.9,1046.1 274.8,1043.9 276.4,1040.9 C278.0,1037.9 295.8,1039.6 295.5,1035.8 C295.2,1032.0 274.8,1030.8 275.1,1025.7 C275.4,1020.6 295.4,1020.3 296.7,1015.5 C298.0,1010.7 280.5,1011.4 280.2,1006.6 C279.9,1001.9 294.9,1001.2 295.5,996.5 C296.1,991.8 283.5,991.7 282.8,987.6 C282.1,983.5 292.3,983.8 292.9,980.0 C293.5,976.2 286.6,977.2 285.3,972.4 C284.0,967.6 287.2,963.8 287.8,960.9"/>
<path d="M362.8,1047.8 C363.1,1045.5 366.6,1042.7 364.0,1038.4 C361.4,1034.2 352.6,1034.6 352.6,1030.8 C352.6,1027.0 363.4,1026.9 364.0,1023.1 C364.6,1019.3 356.4,1019.0 355.1,1015.5 C353.8,1012.0 357.9,1010.8 358.9,1009.2"/>
<path d="M434.6,1048.8 C436.8,1047.0 444.1,1045.6 443.5,1041.6 C442.9,1037.6 432.1,1037.5 432.1,1032.7 C432.1,1027.9 441.3,1028.2 443.5,1022.5 C445.7,1016.8 441.5,1013.0 440.9,1009.8"/>
<path d="M496.8,1048.8 C500.3,1047.0 511.8,1046.6 510.8,1041.6 C509.9,1036.6 493.6,1035.0 493.0,1028.9 C492.4,1022.9 506.9,1023.5 508.2,1017.4 C509.5,1011.3 499.1,1011.1 498.1,1004.7 C497.2,998.4 503.8,998.3 504.4,992.0 C505.0,985.7 500.9,985.4 500.6,979.4 C500.3,973.4 502.6,970.8 503.2,967.9"/>
<path d="M565.4,1048.8 C570.1,1046.7 586.3,1044.3 584.4,1040.3 C582.5,1036.3 559.4,1037.8 557.8,1032.7 C556.2,1027.6 577.1,1026.3 578.1,1020.0 C579.1,1013.6 562.2,1013.0 561.6,1007.3 C561.0,1001.6 575.8,1001.5 575.5,997.1 C575.2,992.7 561.9,994.6 560.3,989.5 C558.7,984.4 568.6,984.4 569.2,976.8 C569.8,969.2 564.4,963.5 562.8,959.0"/>
<path d="M631.7,1047.5 C633.3,1045.8 641.6,1044.8 638.1,1040.6 C634.6,1036.3 618.1,1035.2 617.8,1030.5 C617.5,1025.8 635.8,1026.0 636.8,1021.6 C637.8,1017.2 621.9,1016.8 621.6,1012.7 C621.3,1008.6 634.3,1009.2 635.6,1005.1 C636.9,1001.0 627.0,1000.0 626.7,996.2 C626.4,992.4 633.0,993.9 634.3,989.8 C635.5,985.7 631.4,985.4 631.7,979.7 C632.0,974.0 634.6,970.2 635.6,967.0"/>
<path d="M697.8,1048.8 C701.3,1047.4 715.2,1047.4 711.7,1043.1 C708.2,1038.8 686.3,1038.0 683.8,1031.7 C681.3,1025.4 700.3,1023.8 701.6,1017.8 C702.9,1011.8 689.2,1012.7 688.9,1007.6 C688.6,1002.5 698.7,1002.5 700.3,997.4 C701.9,992.3 695.8,992.4 695.2,987.3 C694.6,982.2 697.5,984.1 697.8,977.1 C698.1,970.1 696.8,963.8 696.5,959.4"/>
<path d="M765.1,1048.8 C767.6,1046.8 778.4,1045.8 775.2,1040.6 C772.0,1035.4 751.8,1034.2 752.4,1027.9 C753.0,1021.6 776.8,1023.5 777.8,1015.2 C778.8,1007.0 757.8,1003.8 756.2,994.9 C754.6,986.0 771.7,986.1 771.4,979.7 C771.1,973.4 754.6,975.9 754.9,969.5 C755.2,963.1 770.5,962.5 772.7,954.3 C774.9,946.0 764.8,945.4 763.8,936.5 C762.8,927.6 767.6,923.2 768.9,918.7"/>
<path d="M836.9,1048.0 C840.7,1045.6 855.5,1043.8 852.0,1038.4 C848.5,1033.1 822.8,1031.4 823.0,1026.6 C823.2,1021.7 851.7,1024.7 853.0,1019.0 C854.3,1013.4 829.4,1011.0 828.3,1004.0 C827.2,997.0 847.9,998.1 848.7,991.1 C849.5,984.1 832.9,983.1 831.6,976.1 C830.3,969.1 841.8,968.6 843.4,963.2 C845.0,957.8 839.6,960.8 838.0,954.6 C836.4,948.4 837.2,942.5 836.9,938.5"/>
<path d="M912.1,1047.4 C916.1,1045.2 933.0,1044.7 928.2,1038.4 C923.4,1032.1 894.9,1029.3 892.8,1022.3 C890.6,1015.3 916.9,1016.8 919.6,1010.4 C922.3,1004.0 903.2,1002.4 903.5,996.5 C903.8,990.6 918.8,993.0 920.7,986.8 C922.6,980.6 910.5,978.2 911.0,971.8 C911.5,965.3 920.8,967.7 922.9,961.0 C925.0,954.3 920.4,948.9 919.6,944.9"/>
</g>
<g fill="#d3383c">
<path d="M219.2,830.0C222.7,827.7 227.3,828.0 229.3,830.8C231.6,833.5 235.1,835.5 234.8,838.2C234.0,840.9 226.9,843.6 223.1,846.0C220.7,847.9 219.2,846.0 217.6,844.0C215.6,842.1 214.5,840.1 215.6,838.2C217.2,835.5 216.4,831.9 219.2,830.0Z"/>
<path d="M254.1,841.9C257.7,840.5 261.9,841.8 263.2,844.6C264.8,847.6 267.6,850.0 266.7,852.4C265.5,854.8 258.5,855.9 254.5,857.3C252.0,858.6 251.0,856.5 249.9,854.5C248.5,852.3 247.8,850.3 249.3,848.7C251.2,846.6 251.2,843.2 254.1,841.9Z"/>
<path d="M254.4,868.0C252.5,865.4 255.6,861.6 259.7,862.5C261.7,863.3 262.1,859.0 265.8,858.7C270.0,858.7 272.7,861.4 272.6,865.2C272.6,869.4 271.1,873.0 270.0,876.4C269.3,877.9 267.4,878.3 266.1,877.1C262.4,874.4 257.2,871.9 254.4,868.0Z"/>
<path d="M268.9,882.8C267.7,880.3 270.8,877.7 274.1,879.0C275.7,880.0 276.6,876.5 279.7,876.8C283.1,877.4 285.0,880.0 284.3,883.1C283.7,886.6 282.0,889.3 280.5,891.9C279.8,893.1 278.1,893.1 277.2,892.0C274.6,889.2 270.7,886.4 268.9,882.8Z"/>
<path d="M235.2,850.1C237.5,849.8 239.8,851.1 240.2,852.9C240.7,854.9 242.0,856.7 241.2,858.0C240.1,859.2 235.9,859.0 233.4,859.2C231.7,859.7 231.4,858.3 231.0,856.9C230.5,855.5 230.4,854.2 231.4,853.5C232.9,852.4 233.3,850.5 235.2,850.1Z"/>
<path d="M277.7,869.5C276.9,868.2 278.6,866.5 280.6,867.2C281.5,867.7 281.9,865.7 283.7,865.8C285.7,866.0 286.9,867.5 286.6,869.3C286.3,871.3 285.4,872.9 284.7,874.5C284.3,875.2 283.3,875.2 282.7,874.6C281.2,873.1 278.8,871.6 277.7,869.5Z"/>
<path d="M219.7,864.2C219.5,862.8 221.4,862.0 222.8,863.1C223.4,863.8 224.3,862.3 225.7,862.9C227.3,863.7 227.8,865.2 227.1,866.6C226.3,868.2 225.0,869.2 223.9,870.3C223.4,870.8 222.6,870.5 222.3,869.8C221.5,868.1 220.0,866.2 219.7,864.2Z"/>
<path d="M202.7,841.5C203.5,840.4 204.9,840.0 205.7,840.6C206.7,841.2 207.9,841.4 208.1,842.2C208.1,843.1 206.4,844.6 205.5,845.7C205.0,846.5 204.4,846.1 203.7,845.7C202.9,845.3 202.4,844.9 202.5,844.2C202.7,843.2 202.1,842.3 202.7,841.5Z"/>
<path d="M214.5,848.0C214.5,847.1 215.7,846.7 216.5,847.5C216.9,847.9 217.6,847.0 218.4,847.5C219.4,848.1 219.6,849.1 219.1,849.9C218.5,850.9 217.6,851.5 216.9,852.1C216.5,852.3 216.0,852.1 215.9,851.7C215.5,850.5 214.6,849.2 214.5,848.0Z"/>
<path d="M294.9,881.3C295.7,880.8 296.9,881.5 297.2,882.5C297.7,884.3 298.8,886.5 298.2,887.8C297.7,889.0 296.1,888.9 294.7,888.3C293.4,887.8 291.6,887.9 291.0,886.7C290.6,885.5 291.9,884.1 292.8,883.2C293.4,882.3 294.0,881.6 294.9,881.3Z"/>
<path d="M302.1,894.5C301.6,892.8 304.0,891.5 305.8,892.8C306.7,893.6 307.7,891.5 309.6,892.2C311.7,893.0 312.6,894.9 311.7,896.8C310.9,898.9 309.4,900.4 308.2,901.8C307.5,902.5 306.5,902.3 306.1,901.4C304.8,899.3 302.7,897.0 302.1,894.5Z"/>
<path d="M241.9,869.3C241.5,868.5 242.6,867.7 243.7,868.1C244.2,868.5 244.6,867.3 245.6,867.5C246.7,867.7 247.4,868.6 247.1,869.7C246.8,870.8 246.2,871.7 245.7,872.6C245.4,873.0 244.9,873.0 244.6,872.6C243.7,871.6 242.5,870.6 241.9,869.3Z"/>
<path d="M207.6,853.4C208.2,852.9 209.2,853.0 209.5,853.5C210.0,854.1 210.7,854.4 210.6,855.0C210.4,855.5 209.1,856.0 208.3,856.5C207.9,856.9 207.6,856.5 207.3,856.1C206.9,855.7 206.6,855.4 206.9,855.0C207.2,854.4 207.0,853.8 207.6,853.4Z"/>
<path d="M222.1,853.6C222.0,853.1 222.7,852.7 223.3,853.1C223.5,853.3 223.9,852.7 224.4,852.9C225.1,853.1 225.3,853.7 225.1,854.3C224.8,854.9 224.4,855.4 224.0,855.8C223.8,856.0 223.5,856.0 223.3,855.7C223.0,855.1 222.3,854.4 222.1,853.6Z"/>
<path d="M260.2,886.0C261.3,885.9 262.3,886.7 262.4,887.6C262.6,888.5 263.2,889.4 262.7,890.0C262.2,890.5 260.2,890.2 259.0,890.2C258.2,890.4 258.1,889.7 258.0,889.1C257.8,888.3 257.8,887.7 258.3,887.4C259.0,887.0 259.3,886.1 260.2,886.0Z"/>
<path d="M274.0,895.9C275.1,895.4 276.5,895.8 276.9,896.7C277.5,897.6 278.4,898.3 278.1,899.1C277.8,899.9 275.6,900.3 274.3,900.8C273.5,901.2 273.2,900.6 272.8,899.9C272.3,899.3 272.1,898.6 272.5,898.1C273.1,897.4 273.1,896.3 274.0,895.9Z"/>
<path d="M289.5,895.4C289.5,894.5 290.8,894.1 291.6,895.0C291.9,895.6 292.7,894.7 293.6,895.2C294.6,895.9 294.7,897.0 294.0,897.9C293.3,898.8 292.4,899.3 291.6,899.9C291.2,900.2 290.6,899.9 290.5,899.4C290.2,898.2 289.4,896.7 289.5,895.4Z"/>
<path d="M278.2,904.7C277.9,903.9 279.0,903.1 280.1,903.7C280.5,904.1 281.0,902.9 282.0,903.2C283.1,903.5 283.7,904.5 283.3,905.5C283.0,906.6 282.3,907.4 281.7,908.3C281.4,908.6 280.8,908.6 280.6,908.1C279.8,907.1 278.6,906.0 278.2,904.7Z"/>
<path d="M294.5,910.9C296.1,910.4 297.9,911.0 298.4,912.3C299.0,913.6 300.2,914.7 299.8,915.8C299.2,916.8 296.1,917.1 294.4,917.6C293.3,918.1 292.9,917.2 292.4,916.3C291.9,915.3 291.6,914.4 292.3,913.8C293.2,912.9 293.3,911.4 294.5,910.9Z"/>
<path d="M314.5,906.3C315.4,905.5 316.8,905.3 317.5,906.0C318.3,906.7 319.4,907.1 319.5,907.9C319.4,908.8 317.5,909.9 316.5,910.8C315.9,911.5 315.3,911.0 314.8,910.5C314.1,910.0 313.6,909.5 313.9,908.9C314.2,908.0 313.8,907.0 314.5,906.3Z"/>
<path d="M323.6,915.0C326.4,913.5 329.9,914.1 331.2,916.2C332.7,918.4 335.2,920.1 334.7,922.1C334.0,924.1 328.6,925.7 325.5,927.2C323.6,928.5 322.6,926.9 321.6,925.4C320.2,923.8 319.5,922.3 320.5,920.9C321.8,918.9 321.5,916.3 323.6,915.0Z"/>
<path d="M336.4,910.9C336.3,909.7 338.0,909.2 339.2,910.2C339.6,910.9 340.6,909.6 341.8,910.3C343.2,911.1 343.5,912.5 342.7,913.7C341.9,915.0 340.7,915.8 339.7,916.7C339.1,917.1 338.5,916.8 338.3,916.2C337.7,914.6 336.5,912.7 336.4,910.9Z"/>
<path d="M338.2,926.2C337.6,924.8 339.6,923.3 341.4,924.2C342.3,924.9 343.0,922.8 344.8,923.2C346.8,923.7 347.8,925.3 347.3,927.1C346.8,929.1 345.6,930.6 344.7,932.1C344.2,932.8 343.2,932.7 342.7,932.0C341.3,930.2 339.1,928.4 338.2,926.2Z"/>
<path d="M333.7,938.7C332.7,936.3 335.8,933.8 339.0,935.2C340.5,936.2 341.5,932.8 344.5,933.2C347.8,933.9 349.6,936.6 348.8,939.6C348.1,943.0 346.3,945.6 344.8,948.1C344.0,949.2 342.4,949.2 341.6,948.1C339.1,945.2 335.4,942.3 333.7,938.7Z"/>
<path d="M359.2,937.3C360.1,936.8 361.2,937.3 361.6,938.3C362.2,940.0 363.5,942.0 363.0,943.4C362.6,944.6 361.1,944.6 359.7,944.1C358.4,943.7 356.6,944.0 356.0,942.9C355.5,941.8 356.7,940.3 357.4,939.3C357.9,938.4 358.4,937.7 359.2,937.3Z"/>
<path d="M360.4,921.8C361.2,921.3 362.2,921.4 362.6,922.0C363.2,922.6 363.9,923.0 363.8,923.6C363.7,924.2 362.1,924.8 361.3,925.3C360.8,925.7 360.4,925.3 360.1,924.9C359.6,924.4 359.4,924.0 359.6,923.6C360.0,923.0 359.8,922.2 360.4,921.8Z"/>
<path d="M366.8,950.6C366.3,948.9 368.7,947.6 370.6,948.9C371.5,949.8 372.6,947.6 374.5,948.3C376.6,949.1 377.5,951.1 376.6,953.0C375.8,955.1 374.3,956.6 373.0,958.1C372.3,958.8 371.3,958.6 370.8,957.7C369.6,955.6 367.4,953.2 366.8,950.6Z"/>
<path d="M382.3,949.5C382.4,948.5 383.8,948.3 384.6,949.4C384.9,950.0 385.9,949.0 386.8,949.8C387.7,950.6 387.8,951.8 387.0,952.6C386.1,953.6 385.1,954.1 384.1,954.7C383.6,954.9 383.1,954.5 383.0,954.0C382.8,952.6 382.1,951.0 382.3,949.5Z"/>
<path d="M353.8,951.5C353.7,950.6 355.0,950.2 355.9,951.0C356.3,951.5 357.0,950.5 358.0,951.0C359.0,951.7 359.3,952.7 358.6,953.6C358.0,954.7 357.1,955.3 356.3,956.0C355.9,956.2 355.4,956.0 355.2,955.5C354.8,954.3 353.9,952.9 353.8,951.5Z"/>
<path d="M365.7,961.8C366.5,961.1 367.7,961.6 368.2,962.5C369.0,964.2 370.4,966.1 370.0,967.5C369.7,968.7 368.2,968.8 366.8,968.5C365.4,968.2 363.7,968.7 363.0,967.6C362.3,966.5 363.4,965.0 364.0,963.9C364.5,963.0 365.0,962.2 365.7,961.8Z"/>
<path d="M379.6,965.1C378.8,963.7 380.6,962.1 382.5,962.7C383.5,963.3 383.9,961.2 385.7,961.3C387.8,961.5 389.0,963.0 388.7,964.9C388.4,966.9 387.5,968.6 386.7,970.2C386.3,970.9 385.3,970.9 384.8,970.3C383.1,968.7 380.7,967.2 379.6,965.1Z"/>
<path d="M373.3,976.0C372.5,974.4 374.6,972.7 376.7,973.5C377.7,974.2 378.3,971.9 380.3,972.1C382.6,972.5 383.9,974.2 383.4,976.3C383.0,978.5 381.9,980.3 380.9,982.1C380.4,982.8 379.3,982.8 378.7,982.1C377.0,980.3 374.5,978.4 373.3,976.0Z"/>
<path d="M386.8,981.2C387.7,980.7 388.8,981.2 389.2,982.2C389.8,983.9 391.1,985.9 390.6,987.3C390.2,988.5 388.7,988.5 387.3,988.0C386.0,987.6 384.2,987.9 383.6,986.8C383.1,985.7 384.3,984.2 385.0,983.2C385.5,982.3 386.0,981.6 386.8,981.2Z"/>
<path d="M394.8,993.8C394.3,992.1 396.7,990.9 398.6,992.1C399.5,993.0 400.6,990.9 402.5,991.5C404.6,992.3 405.5,994.3 404.6,996.2C403.8,998.3 402.3,999.8 401.0,1001.3C400.3,1002.0 399.3,1001.8 398.8,1000.9C397.6,998.8 395.4,996.4 394.8,993.8Z"/>
<path d="M393.4,1005.1C394.2,1004.5 395.5,1005.0 396.0,1005.9C396.8,1007.7 398.2,1009.6 397.9,1011.0C397.6,1012.3 396.0,1012.5 394.5,1012.2C393.1,1011.8 391.3,1012.3 390.5,1011.2C389.9,1010.1 391.0,1008.5 391.6,1007.4C392.1,1006.4 392.6,1005.6 393.4,1005.1Z"/>
<path d="M381.5,995.4C381.4,994.5 382.7,994.1 383.6,994.9C384.0,995.4 384.7,994.4 385.7,994.9C386.7,995.6 387.0,996.6 386.3,997.5C385.7,998.6 384.8,999.2 384.0,999.9C383.6,1000.1 383.1,999.9 382.9,999.4C382.5,998.2 381.6,996.8 381.5,995.4Z"/>
<path d="M338.3,962.2C338.1,961.3 339.3,960.6 340.3,961.3C340.8,961.7 341.3,960.6 342.4,960.9C343.5,961.4 343.9,962.4 343.5,963.4C343.0,964.5 342.2,965.3 341.6,966.1C341.2,966.4 340.7,966.3 340.5,965.9C339.8,964.7 338.7,963.5 338.3,962.2Z"/>
<path d="M326.8,940.7C326.8,939.9 328.0,939.6 328.6,940.4C328.9,940.8 329.6,940.1 330.3,940.6C331.1,941.1 331.2,942.0 330.6,942.7C330.1,943.5 329.3,944.0 328.6,944.5C328.2,944.7 327.8,944.5 327.7,944.1C327.4,943.0 326.8,941.8 326.8,940.7Z"/>
<path d="M363.0,979.4C362.7,978.7 363.6,978.0 364.5,978.4C365.0,978.7 365.3,977.7 366.1,977.8C367.1,978.0 367.6,978.8 367.4,979.6C367.2,980.6 366.7,981.3 366.2,982.1C366.0,982.4 365.5,982.4 365.3,982.1C364.6,981.2 363.5,980.4 363.0,979.4Z"/>
<path d="M359.7,981.8C360.7,981.6 361.8,982.1 362.0,982.9C362.4,983.7 363.0,984.5 362.7,985.1C362.3,985.7 360.4,985.8 359.2,986.0C358.5,986.3 358.3,985.7 358.1,985.1C357.8,984.4 357.7,983.8 358.1,983.5C358.7,983.0 358.8,982.0 359.7,981.8Z"/>
<path d="M371.2,1001.6C371.0,1001.0 371.9,1000.5 372.6,1001.0C372.9,1001.3 373.3,1000.5 374.0,1000.7C374.8,1001.1 375.2,1001.8 374.8,1002.5C374.5,1003.3 374.0,1003.9 373.5,1004.4C373.2,1004.7 372.8,1004.6 372.7,1004.3C372.2,1003.5 371.4,1002.6 371.2,1001.6Z"/>
<circle cx="200.4" cy="850.1" r="1.1"/>
<circle cx="218.2" cy="859.6" r="1.1"/>
<circle cx="231.6" cy="864.7" r="1.1"/>
<circle cx="263.0" cy="880.9" r="1.1"/>
<circle cx="265.5" cy="892.6" r="1.1"/>
<circle cx="270.9" cy="892.6" r="1.1"/>
<circle cx="297.3" cy="893.3" r="1.1"/>
<circle cx="288.4" cy="905.3" r="1.1"/>
<circle cx="303.4" cy="905.3" r="1.1"/>
<circle cx="305.5" cy="919.0" r="1.1"/>
<circle cx="298.5" cy="923.5" r="1.1"/>
<circle cx="303.6" cy="924.1" r="1.1"/>
<circle cx="308.1" cy="923.5" r="1.1"/>
<circle cx="303.2" cy="905.3" r="0.9"/>
<circle cx="305.5" cy="919.6" r="1.3"/>
<circle cx="303.6" cy="924.4" r="1.3"/>
<circle cx="308.1" cy="923.8" r="0.9"/>
<circle cx="323.6" cy="934.8" r="1.3"/>
<circle cx="321.8" cy="943.2" r="1.3"/>
<circle cx="318.8" cy="946.8" r="0.9"/>
<circle cx="329.2" cy="949.1" r="1.3"/>
<circle cx="331.2" cy="953.6" r="1.3"/>
<circle cx="334.0" cy="956.5" r="0.9"/>
<circle cx="341.3" cy="955.3" r="1.3"/>
<circle cx="342.9" cy="951.7" r="1.3"/>
<circle cx="350.4" cy="962.1" r="0.9"/>
<circle cx="347.4" cy="966.9" r="1.3"/>
<circle cx="345.5" cy="971.6" r="1.3"/>
<circle cx="351.7" cy="972.1" r="0.9"/>
<circle cx="359.1" cy="973.8" r="1.3"/>
<circle cx="368.8" cy="973.8" r="1.3"/>
<circle cx="351.9" cy="978.1" r="0.9"/>
<circle cx="354.5" cy="979.6" r="1.3"/>
<circle cx="362.1" cy="949.4" r="1.3"/>
<circle cx="372.5" cy="940.4" r="0.9"/>
<circle cx="366.9" cy="989.7" r="1.3"/>
<circle cx="364.3" cy="991.3" r="1.3"/>
<circle cx="389.6" cy="993.2" r="0.9"/>
<circle cx="368.4" cy="998.2" r="1.3"/>
<circle cx="367.8" cy="1006.9" r="1.3"/>
</g>
<line class="ld" x1="431.3" y1="932.5" x2="431.3" y2="998"/>
<circle class="dot" cx="431.3" cy="928.2" r="4.5"/>
<g class="sm" font-size="19.6" text-anchor="middle"><text x="431.1" y="886.3" textLength="52.7" lengthAdjust="spacingAndGlyphs">Basal</text><text x="430.7" y="911" textLength="46.9" lengthAdjust="spacingAndGlyphs">layer</text></g>
</g>

</svg>
</body>
</html>
